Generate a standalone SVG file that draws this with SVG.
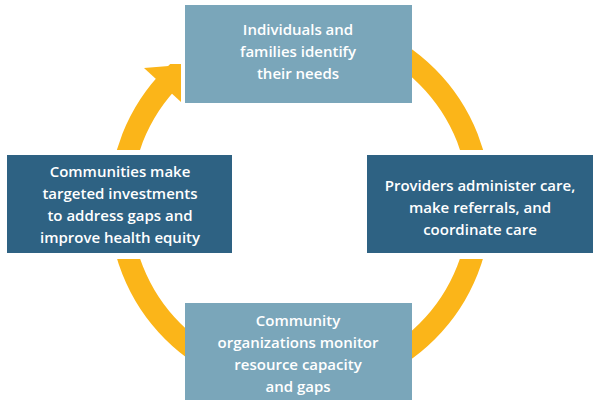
<svg xmlns="http://www.w3.org/2000/svg" width="600" height="407" viewBox="0 0 600 407">
<style>
.l{fill:#7aa6ba}.d{fill:#2e6283}
text{fill:#fff;font-family:"Open Sans","Liberation Sans",sans-serif;font-weight:600;font-size:15px;text-anchor:middle}
</style>
<rect width="600" height="407" fill="#fff"/>
<g id="connectors">
<circle cx="300" cy="204" r="180" fill="none" stroke="#fbb519" stroke-width="22"/>
<rect x="0" y="150" width="240" height="109" fill="#fff"/>
<rect x="360" y="150" width="240" height="109" fill="#fff"/>
<rect x="168" y="0" width="18" height="64" fill="#fff"/>
<rect x="181" y="0" width="5" height="110" fill="#fff"/>
<polygon points="144,68 181,65 181,102" fill="#fbb519"/>
</g>
<g id="top"><rect class="l" x="185" y="5" width="227" height="98"/>
<text x="298" y="35">Individuals and</text><text x="298" y="57">families identify</text><text x="298" y="79">their needs</text></g>
<g id="right"><rect class="d" x="367" y="155" width="226" height="98"/>
<text x="480" y="191">Providers administer care,</text><text x="480" y="213">make referrals, and</text><text x="480" y="235">coordinate care</text></g>
<g id="bottom"><rect class="l" x="185" y="303" width="227" height="97"/>
<text x="298" y="326">Community</text><text x="298" y="348">organizations monitor</text><text x="298" y="370">resource capacity</text><text x="298" y="392">and gaps</text></g>
<g id="left"><rect class="d" x="7" y="155" width="225" height="98"/>
<text x="120" y="177">Communities make</text><text x="120" y="199">targeted investments</text><text x="120" y="221">to address gaps and</text><text x="120" y="243">improve health equity</text></g>
</svg>
